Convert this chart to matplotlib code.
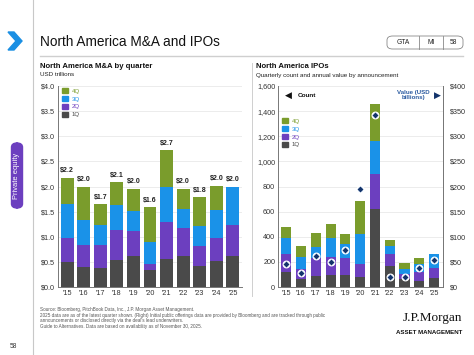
import matplotlib
matplotlib.use("Agg")
import matplotlib.pyplot as plt
import numpy as np
from matplotlib.patches import FancyBboxPatch, Polygon, Rectangle
from matplotlib.lines import Line2D

plt.rcParams['font.family'] = ['Liberation Sans', 'DejaVu Sans']

years = ["'15", "'16", "'17", "'18", "'19", "'20", "'21", "'22", "'23", "'24", "'25"]
quarters = ["1Q", "2Q", "3Q", "4Q"]

# M&A quarterly values, USD trillions
ma_q1 = [0.50, 0.40, 0.37, 0.53, 0.61, 0.33, 0.56, 0.61, 0.42, 0.51, 0.61]
ma_q2 = [0.48, 0.44, 0.47, 0.61, 0.51, 0.12, 0.73, 0.56, 0.40, 0.46, 0.63]
ma_q3 = [0.67, 0.49, 0.40, 0.49, 0.40, 0.44, 0.70, 0.38, 0.40, 0.56, 0.75]
ma_q4 = [0.52, 0.66, 0.41, 0.45, 0.44, 0.70, 0.73, 0.40, 0.57, 0.48, 0.0]
ma_labels = ["$2.2", "$2.0", "$1.7", "$2.1", "$2.0", "$1.6", "$2.7", "$2.0", "$1.8", "$2.0", "$2.0"]

# IPO quarterly counts
ipo_q1 = [120, 61, 88, 93, 93, 80, 619, 165, 61, 48, 69]
ipo_q2 = [146, 86, 139, 147, 139, 104, 280, 96, 46, 72, 83]
ipo_q3 = [125, 93, 93, 147, 109, 237, 266, 67, 37, 61, 109]
ipo_q4 = [87, 89, 107, 114, 83, 262, 294, 43, 48, 48, 0]
# IPO annual value, USD billions
ipo_value = [46.5, 28.6, 61, 50, 74, 195, 342, 20, 20, 38.5, 54]

colors = {"1Q": "#4a4a4a", "2Q": "#6c3fbf", "3Q": "#1a92e8", "4Q": "#7a9c2c"}
legend_text_colors = {"1Q": "#4a4a4a", "2Q": "#6c3fbf", "3Q": "#1a92e8", "4Q": "#7a9c2c"}
navy = "#13336b"
grid_c = "#e4e4e4"
tick_c = "#333333"
tick_fs = 5.2

fig = plt.figure(figsize=(4.74, 3.55), dpi=100)

def fx(px):
    return px / 474.0

def fy(py):
    return 1 - py / 355.0

# ---------- page decorations ----------
fig.add_artist(Line2D([fx(33), fx(33)], [0, 1], color="#c8c8c8", lw=0.8))
chev = Polygon([[fx(8), fy(32)], [fx(14), fy(32)], [fx(22), fy(41)], [fx(14), fy(50)],
                [fx(8), fy(50)], [fx(16), fy(41)]], closed=True, color="#1a8fe3",
               transform=fig.transFigure)
fig.add_artist(chev)
tab = FancyBboxPatch((fx(11.5), fy(208)), fx(11), fy(143) - fy(208),
                     boxstyle="round,pad=0,rounding_size=0.012", color="#6c3fbf",
                     transform=fig.transFigure, mutation_aspect=1)
fig.add_artist(tab)
fig.text(fx(17), fy(175.5), "Private equity", rotation=90, color="white", fontsize=5.4,
         ha="center", va="center")
fig.text(fx(10), fy(346), "58", fontsize=4.8, color="#333333", ha="left", va="center")

# main title
fig.text(fx(40), fy(42), "North America M&A and IPOs", fontsize=9.8, color="#111111",
         ha="left", va="center")
fig.add_artist(Line2D([fx(40), fx(463)], [fy(56), fy(56)], color="#cfcfcf", lw=1.0))

# GTA | MI | 58 box
box = FancyBboxPatch((fx(387), fy(49)), fx(463 - 387), fy(36) - fy(49),
                     boxstyle="round,pad=0,rounding_size=0.012", fc="white", ec="#888888",
                     lw=0.6, transform=fig.transFigure)
fig.add_artist(box)
for xs in (419, 443):
    fig.add_artist(Line2D([fx(xs), fx(xs)], [fy(49), fy(36)], color="#888888", lw=0.6))
fig.text(fx(403), fy(42.5), "GTA", fontsize=4.8, ha="center", va="center", color="#222222")
fig.text(fx(431), fy(42.5), "MI", fontsize=4.8, ha="center", va="center", color="#222222")
fig.text(fx(453), fy(42.5), "58", fontsize=4.8, ha="center", va="center", color="#222222")

# panel titles
fig.text(fx(40), fy(67), "North America M&A by quarter", fontsize=5.6, fontweight="bold",
         color="#111111", ha="left", va="center")
fig.text(fx(40), fy(75), "USD trillions", fontsize=4.5, color="#222222", ha="left", va="center")
fig.text(fx(256), fy(67), "North America IPOs", fontsize=5.6, fontweight="bold",
         color="#111111", ha="left", va="center")
fig.text(fx(256), fy(75), "Quarterly count and annual value by announcement", fontsize=4.5,
         color="#222222", ha="left", va="center")
fig.add_artist(Line2D([fx(252), fx(252)], [fy(63), fy(296)], color="#cfcfcf", lw=0.7))

# footer
footer = ("Source: Bloomberg, PitchBook Data, Inc., J.P. Morgan Asset Management.\n"
          "2025 data are as of the latest quarter shown. (Right) Initial public offerings data are provided by Bloomberg and are tracked through public\n"
          "announcements or disclosed directly via the deal's lead underwriters.\n"
          "Guide to Alternatives. Data are based on availability as of November 30, 2025.")
fig.text(fx(40), fy(307), footer, fontsize=3.3, color="#555555", ha="left", va="top",
         linespacing=1.15)
fig.text(fx(462), fy(318), "J.P.Morgan", fontsize=9.5, family=["Liberation Serif", "DejaVu Serif"],
         color="#111111", ha="right", va="center")
fig.text(fx(462), fy(332), "ASSET MANAGEMENT", fontsize=4.4, color="#111111", ha="right",
         va="center", fontweight="bold")

x = np.arange(len(years))

# ---------- left chart ----------
ax1 = fig.add_axes([fx(58), fy(287), fx(242 - 58), fy(86) - fy(287)])
bottom = np.zeros(len(years))
series_ma = {"1Q": ma_q1, "2Q": ma_q2, "3Q": ma_q3, "4Q": ma_q4}
for q in quarters:
    vals = np.array(series_ma[q])
    ax1.bar(x, vals, bottom=bottom, width=0.78, color=colors[q], label=q, zorder=3)
    bottom += vals
for xi, tot, lab in zip(x, bottom, ma_labels):
    ax1.text(xi, tot + 0.07, lab, ha="center", va="bottom", fontsize=5.0, fontweight="bold",
             color="#222222")
ax1.set_xlim(-0.55, 10.55)
ax1.set_ylim(0, 4.0)
ax1.set_yticks(np.arange(0, 4.01, 0.5))
ax1.set_yticklabels([f"${v:.1f}" for v in np.arange(0, 4.01, 0.5)])
ax1.set_xticks(x)
ax1.set_xticklabels(years)
ax1.grid(axis="y", color=grid_c, lw=0.5, zorder=0)
for s in ("top", "right"):
    ax1.spines[s].set_visible(False)
ax1.spines["left"].set_color("#777777")
ax1.spines["bottom"].set_color("#777777")
ax1.spines["left"].set_linewidth(0.7)
ax1.spines["bottom"].set_linewidth(0.7)
ax1.tick_params(axis="both", labelsize=tick_fs, colors=tick_c, length=0, pad=2)

handles = [Rectangle((0, 0), 1, 1, color=colors[q]) for q in quarters[::-1]]
leg1 = ax1.legend(handles, quarters[::-1], loc="upper left", bbox_to_anchor=(0.0, 1.01),
                  frameon=False, fontsize=4.4, handlelength=0.9, handleheight=0.9,
                  labelspacing=0.35, handletextpad=0.6, borderaxespad=0.3)
for t, q in zip(leg1.get_texts(), quarters[::-1]):
    t.set_color(legend_text_colors[q])

# ---------- right chart ----------
ax2 = fig.add_axes([fx(278), fy(287), fx(443 - 278), fy(86) - fy(287)])
bottom = np.zeros(len(years))
series_ipo = {"1Q": ipo_q1, "2Q": ipo_q2, "3Q": ipo_q3, "4Q": ipo_q4}
for q in quarters:
    vals = np.array(series_ipo[q])
    ax2.bar(x, vals, bottom=bottom, width=0.68, color=colors[q], label=q, zorder=3)
    bottom += vals
ax2.set_xlim(-0.55, 10.6)
ax2.set_ylim(0, 1600)
ax2.set_yticks(np.arange(0, 1601, 200))
ax2.set_yticklabels([f"{int(v):,}" for v in np.arange(0, 1601, 200)])
ax2.set_xticks(x)
ax2.set_xticklabels(years)
ax2.grid(axis="y", color=grid_c, lw=0.5, zorder=0)
ax2.spines["top"].set_visible(False)
for s in ("left", "right", "bottom"):
    ax2.spines[s].set_color("#777777")
    ax2.spines[s].set_linewidth(0.7)
ax2.tick_params(axis="both", labelsize=tick_fs, colors=tick_c, length=0, pad=2)

ax3 = ax2.twinx()
ax3.set_ylim(0, 400)
ax3.set_yticks(np.arange(0, 401, 50))
ax3.set_yticklabels([f"${int(v)}" for v in np.arange(0, 401, 50)])
ax3.tick_params(axis="y", labelsize=tick_fs, colors=tick_c, length=0, pad=5)
for s in ("top", "left", "bottom"):
    ax3.spines[s].set_visible(False)
ax3.spines["right"].set_color("#777777")
ax3.spines["right"].set_linewidth(0.7)
ax3.scatter(x, ipo_value, s=24, marker="o", facecolor="#dbe8f7", edgecolor="white",
            linewidths=0.8, zorder=5)
ax3.scatter(x, ipo_value, s=9, marker="D", color=navy, zorder=6, linewidths=0)

handles2 = [Rectangle((0, 0), 1, 1, color=colors[q]) for q in quarters[::-1]]
leg2 = ax3.legend(handles2, quarters[::-1], loc="upper left", bbox_to_anchor=(0.0, 0.86),
                  frameon=False, fontsize=4.4, handlelength=0.9, handleheight=0.9,
                  labelspacing=0.35, handletextpad=0.6, borderaxespad=0.3)
for t, q in zip(leg2.get_texts(), quarters[::-1]):
    t.set_color(legend_text_colors[q])

ax3.text(0.04, 0.955, "\u25C0", transform=ax3.transAxes, fontsize=6.5, color="#111111",
         ha="left", va="center", family=["DejaVu Sans"])
ax3.text(0.12, 0.955, "Count", transform=ax3.transAxes, fontsize=4.6, color="#111111",
         ha="left", va="center", fontweight="bold")
ax3.text(0.82, 0.955, "Value (USD\nbillions)", transform=ax3.transAxes, fontsize=4.4,
         color="#2a5aa0", ha="center", va="center", fontweight="bold", linespacing=1.1)
ax3.text(0.965, 0.955, "\u25B6", transform=ax3.transAxes, fontsize=6.5, color=navy,
         ha="center", va="center", family=["DejaVu Sans"])

fig.savefig("out.png", dpi=100)
